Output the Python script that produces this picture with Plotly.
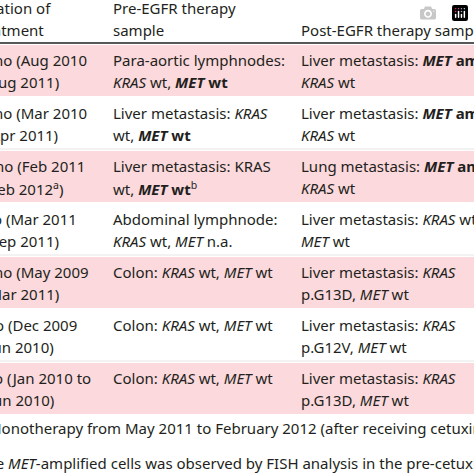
import plotly.graph_objects as go

# table content (left column is cropped in the reference)
duration_l1 = ["Chemo (Aug 2010", "Chemo (Mar 2010", "Chemo (Feb 2011", "Mono (Mar 2011",
               "Chemo (May 2009", "Mono (Dec 2009", "Mono (Jan 2010 to"]
duration_l2 = ["to Aug 2011)", "to Apr 2011)", "to Feb 2012<sup>a</sup>)", "to Sep 2011)",
               "to Mar 2011)", "to Jun 2010)", "Jun 2010)"]
duration_end1 = [89, 89, 87, 79, 91, 79, 93]
duration_end2 = [61, 60, 66, 61, 61, 56, 56]
pre_l1 = ["Para-aortic lymphnodes:", "Liver metastasis: <i>KRAS</i>", "Liver metastasis: KRAS",
          "Abdominal lymphnode:", "Colon: <i>KRAS</i> wt, <i>MET</i> wt",
          "Colon: <i>KRAS</i> wt, <i>MET</i> wt", "Colon: <i>KRAS</i> wt, <i>MET</i> wt"]
pre_l2 = ["<i>KRAS</i> wt, <b><i>MET</i> wt</b>", "wt, <b><i>MET</i> wt</b>",
          "wt, <b><i>MET</i> wt</b><sup>b</sup>", "<i>KRAS</i> wt, <i>MET</i> n.a.", "", "", ""]
post_l1 = ["Liver metastasis: <b><i>MET</i> amplified</b>", "Liver metastasis: <b><i>MET</i> amplified</b>",
           "Lung metastasis: <b><i>MET</i> amplified</b>", "Liver metastasis: <i>KRAS</i> wt,",
           "Liver metastasis: <i>KRAS</i>", "Liver metastasis: <i>KRAS</i>", "Liver metastasis: <i>KRAS</i>"]
post_l2 = ["<i>KRAS</i> wt", "<i>KRAS</i> wt", "<i>KRAS</i> wt", "<i>MET</i> wt",
           "p.G13D, <i>MET</i> wt", "p.G12V, <i>MET</i> wt", "p.G13D, <i>MET</i> wt"]
footnotes = ["Monotherapy from May 2011 to February 2012 (after receiving cetuximab)",
             "Rare <i>MET</i>-amplified cells was observed by FISH analysis in the pre-cetuximab sample"]

FONT = dict(family="Noto Sans", size=15, color="#231f20")
PINK = "#fbd9dc"
top0, rh = 44, 53

shapes, ann = [], []

def txt(x, y, s, anchor="left"):
    ann.append(dict(x=x, y=y, xref="x", yref="y", text=s, showarrow=False,
                    xanchor=anchor, yanchor="middle", font=FONT))

for i in range(len(pre_l1)):
    top = top0 + rh * i
    if i % 2 == 0:
        shapes.append(dict(type="rect", x0=-10, x1=484, y0=top + 1, y1=top + rh - 1,
                           fillcolor=PINK, line_width=0, layer="below"))
    else:
        shapes.append(dict(type="line", x0=-10, x1=484, y0=top + rh - 1, y1=top + rh - 1,
                           line=dict(color="#e6e6e6", width=1), layer="below"))
    txt(duration_end1[i], top + 16, duration_l1[i], "right")
    txt(duration_end2[i], top + 38, duration_l2[i], "right")
    txt(111, top + 16, pre_l1[i])
    txt(111, top + 38, pre_l2[i])
    txt(299, top + 16, post_l1[i])
    txt(299, top + 38, post_l2[i])

# header
txt(53, 8, "Duration of", "right")
txt(46, 30, "treatment", "right")
txt(111, 8, "Pre-EGFR therapy")
txt(111, 30, "sample")
txt(299, 30, "Post-EGFR therapy sample")
shapes.append(dict(type="line", x0=-10, x1=484, y0=43, y1=43, line=dict(color="#231f20", width=1.5)))

# footnotes, cut at the left edge like the reference
for fx, fy, s in [(-14, 428, footnotes[0]), (-30, 463, footnotes[1])]:
    ann.append(dict(x=fx / 474, y=fy, xref="paper", yref="y", text=s, showarrow=False,
                    xanchor="left", yanchor="middle", font=FONT))

fig = go.Figure()
fig.update_layout(width=474, height=474, margin=dict(l=0, r=0, t=0, b=0),
                  paper_bgcolor="white", plot_bgcolor="white", showlegend=False,
                  shapes=shapes, annotations=ann,
                  xaxis=dict(range=[0, 474], visible=False, fixedrange=True),
                  yaxis=dict(range=[474, 0], visible=False, fixedrange=True))
fig.write_html("out.html", post_script="document.body.style.margin='0';")
